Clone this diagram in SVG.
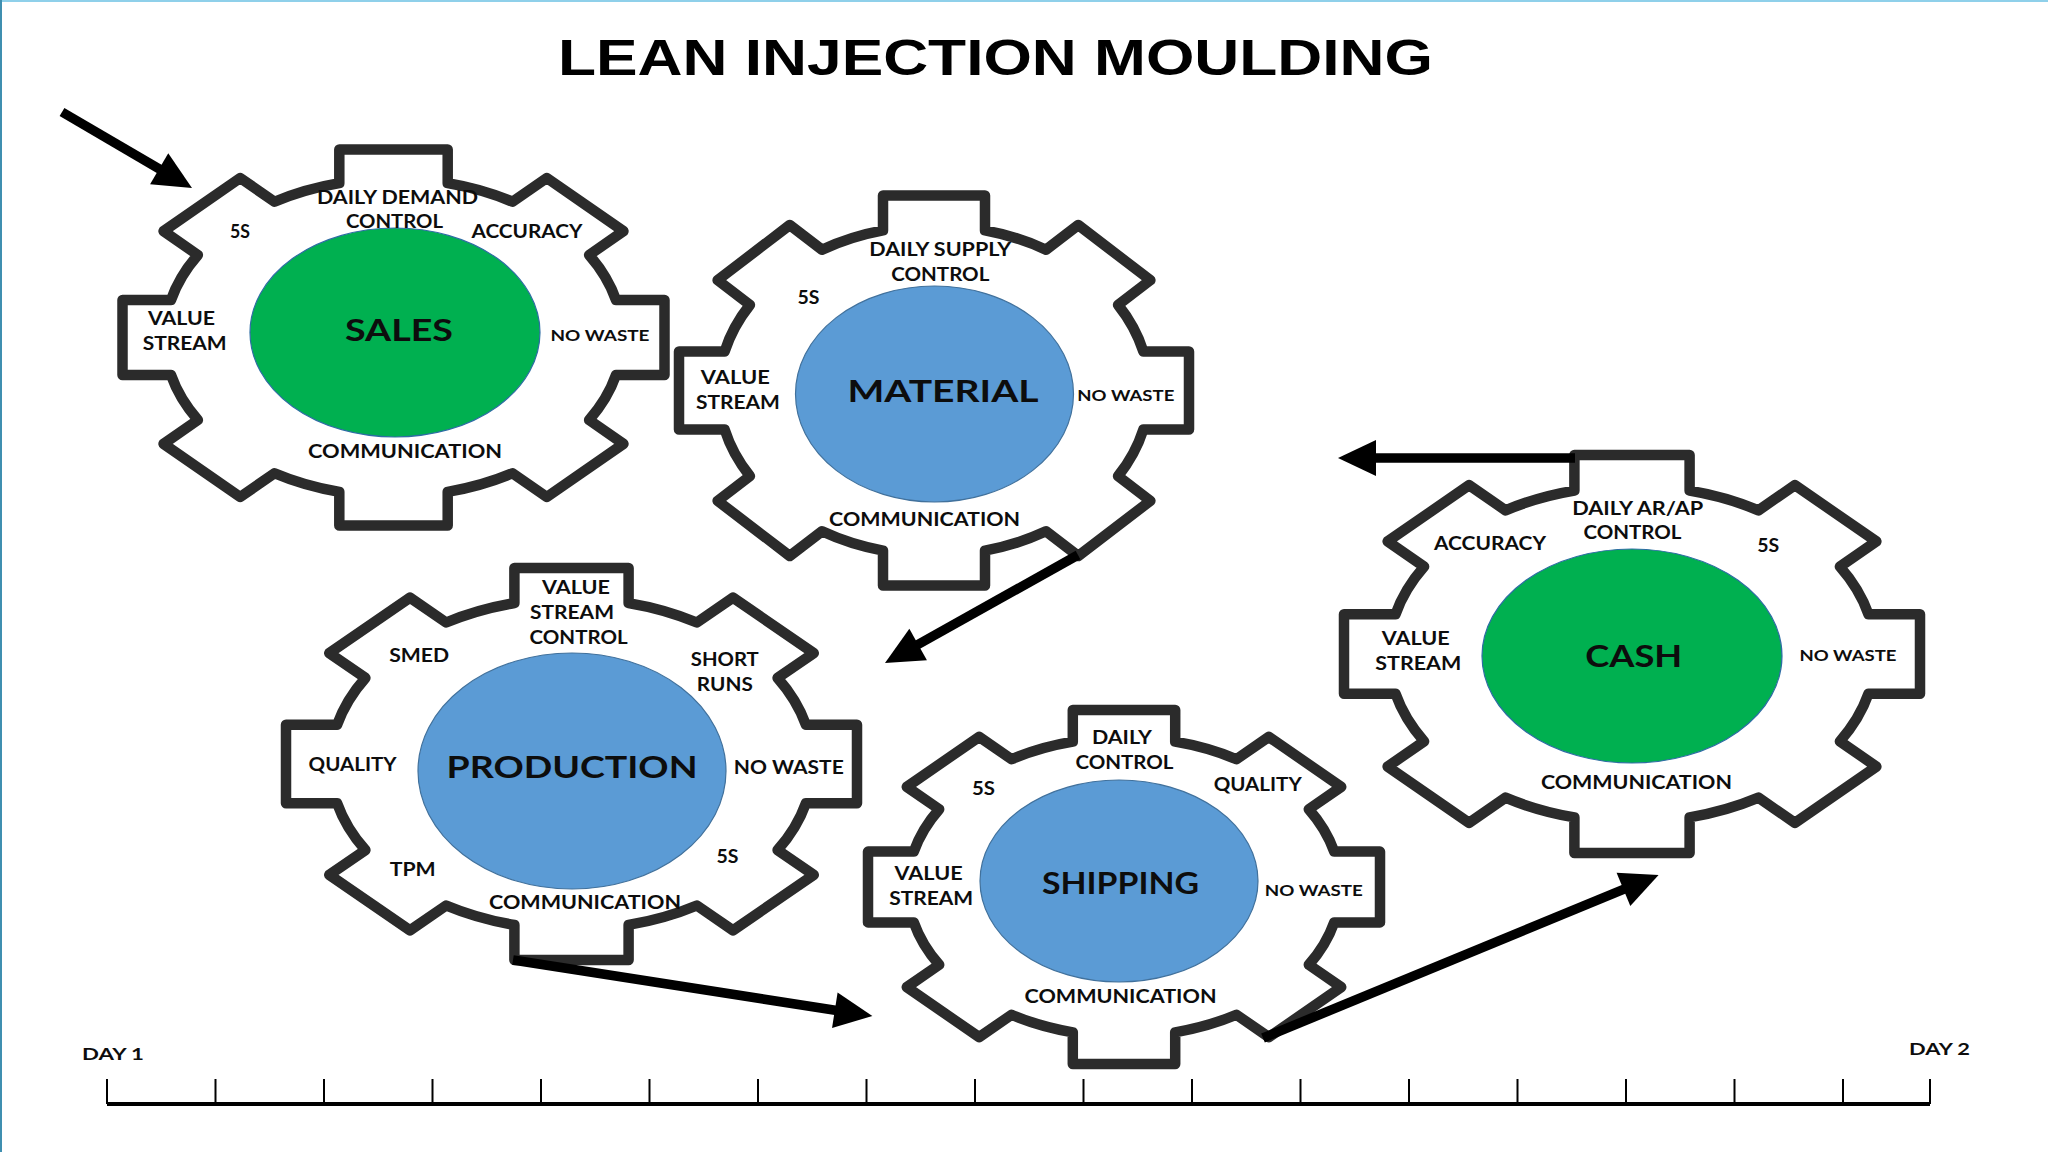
<svg xmlns="http://www.w3.org/2000/svg" xmlns:xlink="http://www.w3.org/1999/xlink" width="2048" height="1152" viewBox="0 0 2048 1152">
<style>
.gear{fill:#fff;stroke:#2b2b2b;stroke-width:10.5;stroke-linejoin:round}
.green{fill:#00b050;stroke:#2e6da4;stroke-width:1.2}
.blue{fill:#5b9bd5;stroke:#41719c;stroke-width:1.2}
text{font-family:Lato,'Open Sans','Liberation Sans',sans-serif;font-weight:700;fill:#0d0d0d;text-anchor:middle}
.l{font-size:18px}
.s{font-size:16px}
.b{font-size:31px}
.title{font-family:'Liberation Sans',Arial,sans-serif;font-size:50px;text-anchor:start;fill:#000}
.day{font-size:17px}
.arrow{stroke:#000;stroke-width:9.5;fill:none;marker-end:url(#head)}
.tick{stroke:#000;stroke-width:2}
</style>
<defs>
<path id="gearShape" vector-effect="non-scaling-stroke" d="M82.1,-20 L100,-20 L100,20 L82.1,20 A84.5,84.5 0 0 1 72.19,43.91 L84.85,56.57 L56.57,84.85 L43.91,72.19 A84.5,84.5 0 0 1 20,82.1 L20,100 L-20,100 L-20,82.1 A84.5,84.5 0 0 1 -43.91,72.19 L-56.57,84.85 L-84.85,56.57 L-72.19,43.91 A84.5,84.5 0 0 1 -82.1,20 L-100,20 L-100,-20 L-82.1,-20 A84.5,84.5 0 0 1 -72.19,-43.91 L-84.85,-56.57 L-56.57,-84.85 L-43.91,-72.19 A84.5,84.5 0 0 1 -20,-82.1 L-20,-100 L20,-100 L20,-82.1 A84.5,84.5 0 0 1 43.91,-72.19 L56.57,-84.85 L84.85,-56.57 L72.19,-43.91 A84.5,84.5 0 0 1 82.1,-20 Z"/>
<marker id="head" markerUnits="userSpaceOnUse" markerWidth="40" markerHeight="40" viewBox="0 0 40 36" refX="2" refY="18" orient="auto" overflow="visible">
<path d="M0,0 L38,18 L0,36 Z" fill="#000"/>
</marker>
</defs>
<rect width="2048" height="1152" fill="#fff"/>
<line x1="0" y1="1" x2="2048" y2="1" stroke="#8fd0ea" stroke-width="2"/>
<line x1="1" y1="0" x2="1" y2="1152" stroke="#3f8fb0" stroke-width="2"/>

<text class="title" x="558" y="75" textLength="875" lengthAdjust="spacingAndGlyphs">LEAN INJECTION MOULDING</text>

<g id="node-sales">
<use xlink:href="#gearShape" class="gear" transform="translate(393.5,337.5) scale(2.71,1.88)"/>
<ellipse class="green" cx="395" cy="332.5" rx="145" ry="104.5"/>
<text class="l" x="397.5" y="204" textLength="161" lengthAdjust="spacingAndGlyphs">DAILY DEMAND</text>
<text class="l" x="394.5" y="228" textLength="97" lengthAdjust="spacingAndGlyphs">CONTROL</text>
<text class="l" x="240" y="238" textLength="20" lengthAdjust="spacingAndGlyphs">5S</text>
<text class="l" x="527" y="238" textLength="111" lengthAdjust="spacingAndGlyphs">ACCURACY</text>
<text class="l" x="181.5" y="325" textLength="67" lengthAdjust="spacingAndGlyphs">VALUE</text>
<text class="l" x="184.7" y="350" textLength="84" lengthAdjust="spacingAndGlyphs">STREAM</text>
<text class="b" x="399" y="341" textLength="108" lengthAdjust="spacingAndGlyphs">SALES</text>
<text class="s" x="600" y="341" textLength="99" lengthAdjust="spacingAndGlyphs">NO WASTE</text>
<text class="l" x="405" y="458" textLength="194" lengthAdjust="spacingAndGlyphs">COMMUNICATION</text>
</g>

<g id="node-material">
<use xlink:href="#gearShape" class="gear" transform="translate(934,390.5) scale(2.55,1.95)"/>
<ellipse class="blue" cx="934.5" cy="394" rx="139" ry="108"/>
<text class="l" x="940.3" y="256" textLength="142" lengthAdjust="spacingAndGlyphs">DAILY SUPPLY</text>
<text class="l" x="940.3" y="281" textLength="98" lengthAdjust="spacingAndGlyphs">CONTROL</text>
<text class="l" x="808.4" y="304" textLength="22" lengthAdjust="spacingAndGlyphs">5S</text>
<text class="l" x="735.3" y="384" textLength="69" lengthAdjust="spacingAndGlyphs">VALUE</text>
<text class="l" x="737.9" y="409" textLength="84" lengthAdjust="spacingAndGlyphs">STREAM</text>
<text class="b" x="943" y="401.5" textLength="191" lengthAdjust="spacingAndGlyphs">MATERIAL</text>
<text class="s" x="1125.8" y="401" textLength="97" lengthAdjust="spacingAndGlyphs">NO WASTE</text>
<text class="l" x="924.6" y="526" textLength="191" lengthAdjust="spacingAndGlyphs">COMMUNICATION</text>
</g>

<g id="node-cash">
<use xlink:href="#gearShape" class="gear" transform="translate(1632,654) scale(2.88,1.99)"/>
<ellipse class="green" cx="1632" cy="656" rx="150" ry="107"/>
<text class="l" x="1637.7" y="514.5" textLength="131" lengthAdjust="spacingAndGlyphs">DAILY AR/AP</text>
<text class="l" x="1632.5" y="539.3" textLength="98" lengthAdjust="spacingAndGlyphs">CONTROL</text>
<text class="l" x="1490" y="549.8" textLength="112" lengthAdjust="spacingAndGlyphs">ACCURACY</text>
<text class="l" x="1768.3" y="552.4" textLength="22" lengthAdjust="spacingAndGlyphs">5S</text>
<text class="l" x="1415.7" y="645" textLength="68" lengthAdjust="spacingAndGlyphs">VALUE</text>
<text class="l" x="1418.3" y="670" textLength="86" lengthAdjust="spacingAndGlyphs">STREAM</text>
<text class="b" x="1633.8" y="666.6" textLength="97" lengthAdjust="spacingAndGlyphs">CASH</text>
<text class="s" x="1848" y="660.8" textLength="97" lengthAdjust="spacingAndGlyphs">NO WASTE</text>
<text class="l" x="1636.4" y="788.8" textLength="191" lengthAdjust="spacingAndGlyphs">COMMUNICATION</text>
</g>

<g id="node-production">
<use xlink:href="#gearShape" class="gear" transform="translate(571.5,764) scale(2.855,1.96)"/>
<ellipse class="blue" cx="572" cy="771" rx="154" ry="118"/>
<text class="l" x="576" y="594" textLength="68" lengthAdjust="spacingAndGlyphs">VALUE</text>
<text class="l" x="572" y="619" textLength="84" lengthAdjust="spacingAndGlyphs">STREAM</text>
<text class="l" x="578.6" y="643.8" textLength="98" lengthAdjust="spacingAndGlyphs">CONTROL</text>
<text class="l" x="419.2" y="662" textLength="60" lengthAdjust="spacingAndGlyphs">SMED</text>
<text class="l" x="724.8" y="666" textLength="68" lengthAdjust="spacingAndGlyphs">SHORT</text>
<text class="l" x="724.8" y="690.8" textLength="56" lengthAdjust="spacingAndGlyphs">RUNS</text>
<text class="l" x="352.6" y="770.5" textLength="88" lengthAdjust="spacingAndGlyphs">QUALITY</text>
<text class="b" x="572" y="777.6" textLength="251" lengthAdjust="spacingAndGlyphs">PRODUCTION</text>
<text class="l" x="788.8" y="774.4" textLength="110" lengthAdjust="spacingAndGlyphs">NO WASTE</text>
<text class="l" x="412.7" y="876.3" textLength="46" lengthAdjust="spacingAndGlyphs">TPM</text>
<text class="l" x="727.4" y="863.2" textLength="22" lengthAdjust="spacingAndGlyphs">5S</text>
<text class="l" x="585" y="909" textLength="192" lengthAdjust="spacingAndGlyphs">COMMUNICATION</text>
</g>

<g id="node-shipping">
<use xlink:href="#gearShape" class="gear" transform="translate(1124,887) scale(2.56,1.77)"/>
<ellipse class="blue" cx="1119" cy="881" rx="139" ry="101"/>
<text class="l" x="1121.9" y="744.4" textLength="60" lengthAdjust="spacingAndGlyphs">DAILY</text>
<text class="l" x="1124.5" y="769.2" textLength="98" lengthAdjust="spacingAndGlyphs">CONTROL</text>
<text class="l" x="983.4" y="795.3" textLength="23" lengthAdjust="spacingAndGlyphs">5S</text>
<text class="l" x="1257.7" y="791.4" textLength="88" lengthAdjust="spacingAndGlyphs">QUALITY</text>
<text class="l" x="928.6" y="880.2" textLength="68" lengthAdjust="spacingAndGlyphs">VALUE</text>
<text class="l" x="931.2" y="905" textLength="84" lengthAdjust="spacingAndGlyphs">STREAM</text>
<text class="b" x="1120.5" y="893.9" textLength="157" lengthAdjust="spacingAndGlyphs">SHIPPING</text>
<text class="s" x="1313.8" y="895.9" textLength="98" lengthAdjust="spacingAndGlyphs">NO WASTE</text>
<text class="l" x="1120.5" y="1003" textLength="192" lengthAdjust="spacingAndGlyphs">COMMUNICATION</text>
</g>

<g id="connectors">
<line class="arrow" x1="62" y1="112" x2="160.9" y2="169.8"/>
<line class="arrow" x1="1078" y1="555" x2="916.4" y2="645.4"/>
<line class="arrow" x1="513" y1="960" x2="836.8" y2="1010.5"/>
<line class="arrow" x1="1263" y1="1038" x2="1625.3" y2="888.7"/>
<line class="arrow" x1="1575" y1="458" x2="1374" y2="458"/>
</g>

<g id="timeline">
<line x1="107" y1="1104" x2="1930" y2="1104" stroke="#000" stroke-width="4"/>
<g class="tick">
<line x1="107" y1="1079" x2="107" y2="1104"/>
<line x1="215.5" y1="1079" x2="215.5" y2="1104"/>
<line x1="324" y1="1079" x2="324" y2="1104"/>
<line x1="432.5" y1="1079" x2="432.5" y2="1104"/>
<line x1="541" y1="1079" x2="541" y2="1104"/>
<line x1="649.5" y1="1079" x2="649.5" y2="1104"/>
<line x1="758" y1="1079" x2="758" y2="1104"/>
<line x1="866.5" y1="1079" x2="866.5" y2="1104"/>
<line x1="975" y1="1079" x2="975" y2="1104"/>
<line x1="1083.5" y1="1079" x2="1083.5" y2="1104"/>
<line x1="1192" y1="1079" x2="1192" y2="1104"/>
<line x1="1300.5" y1="1079" x2="1300.5" y2="1104"/>
<line x1="1409" y1="1079" x2="1409" y2="1104"/>
<line x1="1517.5" y1="1079" x2="1517.5" y2="1104"/>
<line x1="1626" y1="1079" x2="1626" y2="1104"/>
<line x1="1734.5" y1="1079" x2="1734.5" y2="1104"/>
<line x1="1843" y1="1079" x2="1843" y2="1104"/>
<line x1="1930" y1="1079" x2="1930" y2="1104"/>
</g>
<text class="day" x="113" y="1060" textLength="62" lengthAdjust="spacingAndGlyphs">DAY 1</text>
<text class="day" x="1939.5" y="1055" textLength="61" lengthAdjust="spacingAndGlyphs">DAY 2</text>
</g>
</svg>
